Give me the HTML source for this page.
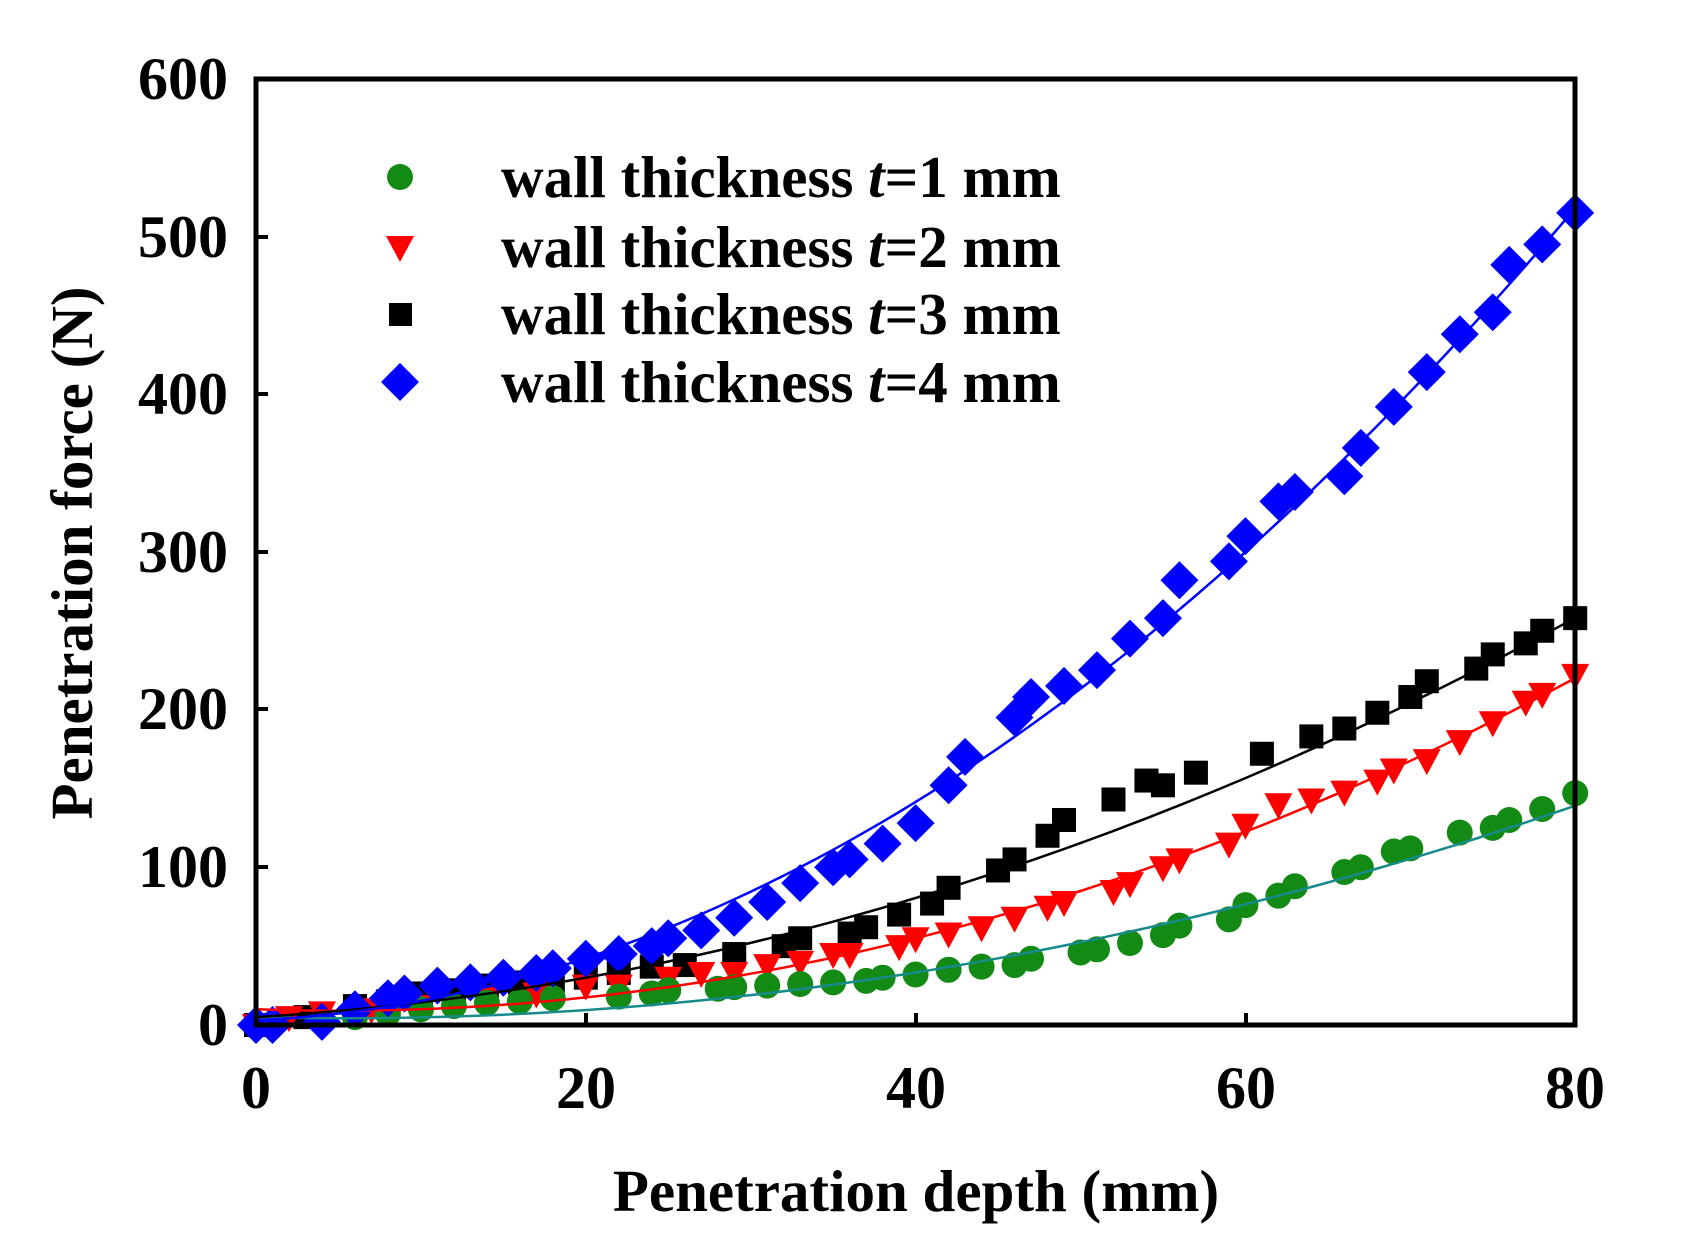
<!DOCTYPE html>
<html><head><meta charset="utf-8"><style>
html,body{margin:0;padding:0;background:#fff;}
svg{display:block;}
text{font-family:"Liberation Serif",serif;font-weight:bold;fill:#000;}
</style></head><body>
<svg id="s" width="1700" height="1253" xmlns="http://www.w3.org/2000/svg">
<rect width="1700" height="1253" fill="#fff"/>
<g id="data"></g>
<rect x="256" y="79" width="1319" height="946" fill="none" stroke="#000" stroke-width="5"/>
<g stroke="#000" stroke-width="4">
<line x1="586" y1="1025" x2="586" y2="1013"/><line x1="916" y1="1025" x2="916" y2="1013"/><line x1="1246" y1="1025" x2="1246" y2="1013"/>
<line x1="256" y1="867" x2="268" y2="867"/><line x1="256" y1="709" x2="268" y2="709"/><line x1="256" y1="552" x2="268" y2="552"/><line x1="256" y1="394" x2="268" y2="394"/><line x1="256" y1="237" x2="268" y2="237"/>
</g>
<g font-size="60" text-anchor="end">
<text x="228" y="1045">0</text><text x="228" y="887">100</text><text x="228" y="729">200</text><text x="228" y="572">300</text><text x="228" y="414">400</text><text x="228" y="257">500</text><text x="228" y="99">600</text>
</g>
<g font-size="60" text-anchor="middle">
<text x="256" y="1108">0</text><text x="586" y="1108">20</text><text x="916" y="1108">40</text><text x="1246" y="1108">60</text><text x="1575" y="1108">80</text>
</g>
<text x="916" y="1211" font-size="59" text-anchor="middle">Penetration depth (mm)</text>
<text transform="translate(92,553) rotate(-90)" font-size="59" text-anchor="middle">Penetration force (N)</text>
<g font-size="59">
<text x="501" y="197">wall thickness <tspan font-style="italic">t</tspan>=1 mm</text>
<text x="501" y="267">wall thickness <tspan font-style="italic">t</tspan>=2 mm</text>
<text x="501" y="334">wall thickness <tspan font-style="italic">t</tspan>=3 mm</text>
<text x="501" y="402">wall thickness <tspan font-style="italic">t</tspan>=4 mm</text>
</g>
<circle cx="400" cy="177" r="13" fill="#138a13"/>
<polygon points="386,236 414,236 400,262" fill="#f00"/>
<rect x="389" y="303" width="23" height="23" fill="#000"/>
<polygon points="400,363 419,382 400,401 381,382" fill="#00f"/>
</svg>
<script>
var X=function(v){return 256+v*16.49},Y=function(v){return 1025-v*1.577};
var g=document.getElementById('data'),h='';
function curve(f,c){var p=[];for(var x=0;x<=80;x+=1)p.push(X(x).toFixed(1)+','+Y(f(x)).toFixed(1));h+='<polyline points="'+p.join(' ')+'" fill="none" stroke="'+c+'" stroke-width="2.5"/>';}
var G=[[0,0],[4,3],[6,5],[8,7],[10,10],[12,12],[14,14],[16,15],[18,17],[22,18],[24,20],[25,22],[28,23],[29,24],[31,25],[33,26],[35,27],[37,28],[38,30],[40,32],[42,35],[44,37],[46,38],[47,42],[50,46],[51,48],[53,52],[55,57],[56,63],[59,67],[60,76],[62,82],[63,88],[66,97],[67,100],[69,110],[70,112],[73,122],[75,125],[76,130],[78,137],[80,147]];
var R=[[0,0],[2,5],[4,8],[7,10],[10,12],[14,17],[17,20],[20,25],[22,25],[25,30],[27,33],[29,33],[31,38],[33,40],[35,45],[36,45],[39,50],[40,55],[42,58],[44,62],[46,68],[48,75],[49,78],[52,85],[53,90],[55,100],[56,105],[59,115],[60,127],[62,140],[64,143],[66,148],[68,155],[69,162],[71,168],[73,180],[75,192],[77,205],[78,210],[80,222]];
var K=[[0,0],[3,5],[6,12],[8,15],[10,20],[12,22],[14,25],[16,27],[18,28],[20,30],[22,33],[24,37],[26,38],[29,45],[32,50],[33,55],[36,58],[37,62],[39,70],[41,77],[42,87],[45,98],[46,105],[48,120],[49,130],[52,143],[54,155],[55,152],[57,160],[61,172],[64,183],[66,188],[68,198],[70,208],[71,218],[74,226],[75,235],[77,242],[78,250],[80,258]];
var B=[[0,0],[1,0],[4,2],[6,10],[8,17],[9,20],[11,25],[13,27],[15,30],[17,33],[18,36],[20,42],[22,45],[24,50],[25,55],[27,60],[29,68],[31,78],[33,90],[35,100],[36,105],[38,115],[40,128],[42,152],[43,170],[46,195],[47,208],[49,215],[51,225],[53,245],[55,258],[56,282],[59,294],[60,310],[62,332],[63,338],[66,348],[67,366],[69,392],[71,414],[73,438],[75,452],[76,482],[78,495],[80,515]];
K.forEach(function(d){var x=X(d[0]),y=Y(d[1]);h+='<rect x="'+(x-12)+'" y="'+(y-12)+'" width="24" height="24" fill="#000"/>';});
R.forEach(function(d){var x=X(d[0]),y=Y(d[1]);h+='<polygon points="'+(x-14)+','+(y-11)+' '+(x+14)+','+(y-11)+' '+x+','+(y+15)+'" fill="#f00"/>';});
G.forEach(function(d){h+='<circle cx="'+X(d[0])+'" cy="'+Y(d[1])+'" r="13" fill="#138a13"/>';});
B.forEach(function(d){var x=X(d[0]),y=Y(d[1]);h+='<polygon points="'+x+','+(y-19)+' '+(x+19)+','+y+' '+x+','+(y+19)+' '+(x-19)+','+y+'" fill="#00f"/>';});
curve(function(x){return 0.0242*x*x-0.26*x+5},'#178a8a');
curve(function(x){return 0.0375*x*x-0.375*x+10},'#f00');
curve(function(x){return 0.0319*x*x+0.6125*x+5},'#000');
curve(function(x){return 0.0744*x*x+0.485*x+3},'#00f');
g.innerHTML=h;
</script>
</body></html>
